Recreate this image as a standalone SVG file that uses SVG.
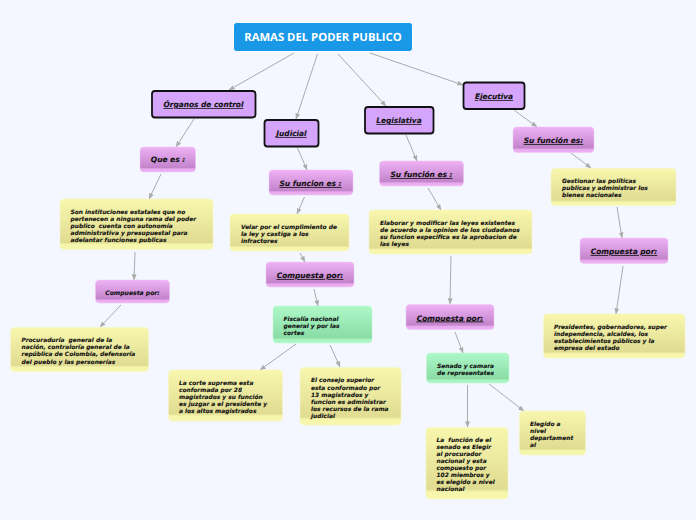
<svg xmlns="http://www.w3.org/2000/svg" width="696" height="520" viewBox="0 0 696 520">
<style>
text{font-family:"DejaVu Sans",sans-serif;font-weight:bold;font-style:italic;fill:#111;font-size:5.9px;stroke:#111;stroke-width:.12;white-space:pre;text-rendering:geometricPrecision}
.c{text-anchor:middle}
.u{text-decoration:underline}
.t{font-family:"Open Sans",sans-serif;font-style:normal;fill:#fff;stroke:none;font-size:11.3px;text-anchor:middle}
.s{font-size:6.1px}
.m{font-size:7.4px}
.l{font-size:7.45px}
.b{fill:#d4a5fa;stroke:#111;stroke-width:1.8}
.y{fill:url(#gy);stroke:#f7f6c0;stroke-width:.5}
.p{fill:url(#gp);stroke:#f0c0f5;stroke-width:.5}
.g{fill:url(#gg);stroke:#b8f8d0;stroke-width:.5}
#connectors line{stroke:#aaa;stroke-width:1;marker-end:url(#a)}
</style>
<defs>
<linearGradient id="gy" x1="0" y1="0" x2="0" y2="1"><stop offset="0" stop-color="#f8f7ae"/><stop offset=".86" stop-color="#e0dc92"/><stop offset=".9" stop-color="#f6f5ac"/><stop offset="1" stop-color="#f8f7ae"/></linearGradient>
<linearGradient id="gp" x1="0" y1="0" x2="0" y2="1"><stop offset="0" stop-color="#efb2f5"/><stop offset=".82" stop-color="#c384cc"/><stop offset=".88" stop-color="#e8aaee"/><stop offset="1" stop-color="#efb2f5"/></linearGradient>
<linearGradient id="gg" x1="0" y1="0" x2="0" y2="1"><stop offset="0" stop-color="#aef8c8"/><stop offset=".86" stop-color="#8adca6"/><stop offset=".9" stop-color="#a8f2c2"/><stop offset="1" stop-color="#aef8c8"/></linearGradient>
<marker id="a" viewBox="0 0 8 8" refX="7.5" refY="4" markerWidth="6" markerHeight="6" markerUnits="userSpaceOnUse" orient="auto"><path d="M0 .8L8 4L0 7.2z" fill="#aaa"/></marker>
</defs>
<rect width="696" height="520" fill="#f4f7ff"/>
<g id="connectors">
<line x1="294" y1="53" x2="229" y2="90"/>
<line x1="317.5" y1="54" x2="296" y2="119"/>
<line x1="338" y1="54" x2="386" y2="106"/>
<line x1="370" y1="53" x2="463" y2="85"/>
<line x1="194" y1="119" x2="176" y2="147"/>
<line x1="297.5" y1="148" x2="307" y2="170"/>
<line x1="406" y1="135" x2="417" y2="161"/>
<line x1="514" y1="110" x2="537" y2="127"/>
<line x1="161" y1="174" x2="149" y2="199"/>
<line x1="304.5" y1="197" x2="297" y2="214"/>
<line x1="428" y1="188" x2="441" y2="210"/>
<line x1="571" y1="153" x2="591" y2="168"/>
<line x1="135" y1="252" x2="134" y2="280"/>
<line x1="300" y1="253" x2="305" y2="262"/>
<line x1="451" y1="256" x2="450" y2="304"/>
<line x1="617" y1="207" x2="622" y2="238"/>
<line x1="121" y1="305" x2="100" y2="327"/>
<line x1="314" y1="289" x2="318" y2="306"/>
<line x1="455" y1="332" x2="463" y2="353"/>
<line x1="623" y1="266" x2="616" y2="314"/>
<line x1="296" y1="344" x2="260" y2="370"/>
<line x1="330" y1="345" x2="340" y2="367"/>
<line x1="467.5" y1="385" x2="467.5" y2="427"/>
<line x1="489" y1="384" x2="524" y2="411"/>
</g>
<g id="title"><rect x="233.500" y="22.500" width="179" height="29" rx="3" fill="#1a98e8" stroke="#fff"/><text class="t" x="323" y="41">RAMAS DEL PODER PUBLICO</text></g>
<g id="organos"><rect class="b" x="152" y="91" width="103.500" height="26.500" rx="3"/><text class="c u m" x="203.500" y="107">Órganos de control</text></g>
<g id="judicial"><rect class="b" x="264.500" y="120" width="54" height="26.500" rx="3"/><text class="c u m" x="291.500" y="136">Judicial</text></g>
<g id="legislativa"><rect class="b" x="365" y="107" width="68.500" height="26.500" rx="3"/><text class="c u m" x="399" y="123">Legislativa</text></g>
<g id="ejecutiva"><rect class="b" x="463.500" y="82.500" width="61" height="26.500" rx="3"/><text class="c u m" x="494" y="99">Ejecutiva</text></g>
<g id="quees"><rect class="p" x="140" y="147" width="55.500" height="25" rx="4"/><text class="c l" x="168" y="162">Que es :</text></g>
<g id="sufj"><rect class="p" x="269" y="170" width="84" height="25" rx="4"/><text class="c u l" x="310.500" y="186">Su funcion es :</text></g>
<g id="sufl"><rect class="p" x="379.500" y="161" width="84" height="25" rx="4"/><text class="c u l" x="421.500" y="177">Su función es :</text></g>
<g id="sufe"><rect class="p" x="513" y="127" width="81" height="25.500" rx="4"/><text class="c u l" x="553.500" y="143">Su función es:</text></g>
<g id="son"><rect class="y" x="60" y="199" width="153" height="50.500" rx="4"/><text x="70.500" y="213.500">Son instituciones estatales que no</text><text x="70.500" y="220.500">pertenecen a ninguna rama del poder</text><text x="70.500" y="227.500">publico  cuenta con autonomía</text><text x="70.500" y="234.500">administrativa y presupuestal para</text><text x="70.500" y="241.500">adelantar funciones publicas</text></g>
<g id="velar"><rect class="y" x="230" y="214" width="119" height="37" rx="4"/><text x="241" y="228.500">Velar por el cumplimiento de</text><text x="241" y="235.500">la ley y castiga a los</text><text x="241" y="242.500">infractores</text></g>
<g id="elaborar"><rect class="y" x="369" y="210" width="163" height="44" rx="4"/><text x="380" y="224.500">Elaborar y modificar las leyes existentes</text><text x="380" y="231.500">de acuerdo a la opinion de los ciudadanos</text><text x="380" y="238.500">su funcion especifica es la aprobacion de</text><text x="380" y="245.500">las leyes</text></g>
<g id="gestionar"><rect class="y" x="551" y="168.500" width="125" height="37" rx="4"/><text x="562" y="183">Gestionar las políticas</text><text x="562" y="190">publicas y administrar los</text><text x="562" y="197">bienes nacionales</text></g>
<g id="comp1"><rect class="p" x="95.500" y="280" width="74" height="23" rx="4"/><text class="c s" x="132.500" y="294.500">Compuesta por:</text></g>
<g id="comp2"><rect class="p" x="266" y="262" width="88" height="25" rx="4"/><text class="c u l" x="310" y="278">Compuesta por:</text></g>
<g id="comp3"><rect class="p" x="406" y="304.500" width="88" height="25" rx="4"/><text class="c u l" x="450" y="320.500">Compuesta por:</text></g>
<g id="comp4"><rect class="p" x="580" y="238" width="88" height="25.500" rx="4"/><text class="c u l" x="624" y="254">Compuesta por:</text></g>
<g id="procuraduria"><rect class="y" x="10.500" y="327.500" width="138" height="44" rx="4"/><text x="21.500" y="341.500">Procuraduría  general de la</text><text x="21.500" y="348.500">nación, contraloría general de la</text><text x="21.500" y="355.500">república de Colombia, defensoría</text><text x="21.500" y="363.500">del pueblo y las personerías</text></g>
<g id="fiscalia"><rect class="g" x="273" y="306" width="99" height="37" rx="4"/><text x="283.500" y="320.500">Fiscalía nacional</text><text x="283.500" y="327.500">general y por las</text><text x="283.500" y="334.500">cortes</text></g>
<g id="senado"><rect class="g" x="426.500" y="353" width="82.500" height="30" rx="4"/><text x="437" y="367.500">Senado y camara</text><text x="437" y="374.500">de representates</text></g>
<g id="corte"><rect class="y" x="168.500" y="370" width="114" height="51" rx="4"/><text x="179" y="384.500">La corte suprema esta</text><text x="179" y="391.500">conformada por 28</text><text x="179" y="398.500">magistrados y su función</text><text x="179" y="405.500">es juzgar a el presidente y</text><text x="179" y="412.500">a los altos magistrados</text></g>
<g id="consejo"><rect class="y" x="300" y="367.500" width="101" height="57.500" rx="4"/><text x="311" y="381.500">El consejo superior</text><text x="311" y="389.500">esta conformado por</text><text x="311" y="396.500">13 magistrados y</text><text x="311" y="403.500">funcion es administrar</text><text x="311" y="410.500">los recursos de la rama</text><text x="311" y="417.500">judicial</text></g>
<g id="presidentes"><rect class="y" x="543.500" y="314" width="141.500" height="44" rx="4"/><text x="554" y="328.500">Presidentes, gobernadores, super</text><text x="554" y="335.500">independencia, alcaldes, los</text><text x="554" y="342.500">establecimientos públicos y la</text><text x="554" y="349.500">empresa del estado</text></g>
<g id="funcion"><rect class="y" x="426" y="427.500" width="82" height="71.500" rx="4"/><text x="436.500" y="441.500">La  función de el</text><text x="436.500" y="448.500">senado es Elegir</text><text x="436.500" y="455.500">al procurador</text><text x="436.500" y="462.500">nacional y esta</text><text x="436.500" y="469.500">compuesto por</text><text x="436.500" y="476.500">102 miembros y</text><text x="436.500" y="483.500">es elegido a nivel</text><text x="436.500" y="490.500">nacional</text></g>
<g id="elegido"><rect class="y" x="519.500" y="411" width="66" height="44" rx="4"/><text x="530" y="425.500">Elegido a</text><text x="530" y="432.500">nivel</text><text x="530" y="439.500">departament</text><text x="530" y="446.500">al</text></g>
</svg>
